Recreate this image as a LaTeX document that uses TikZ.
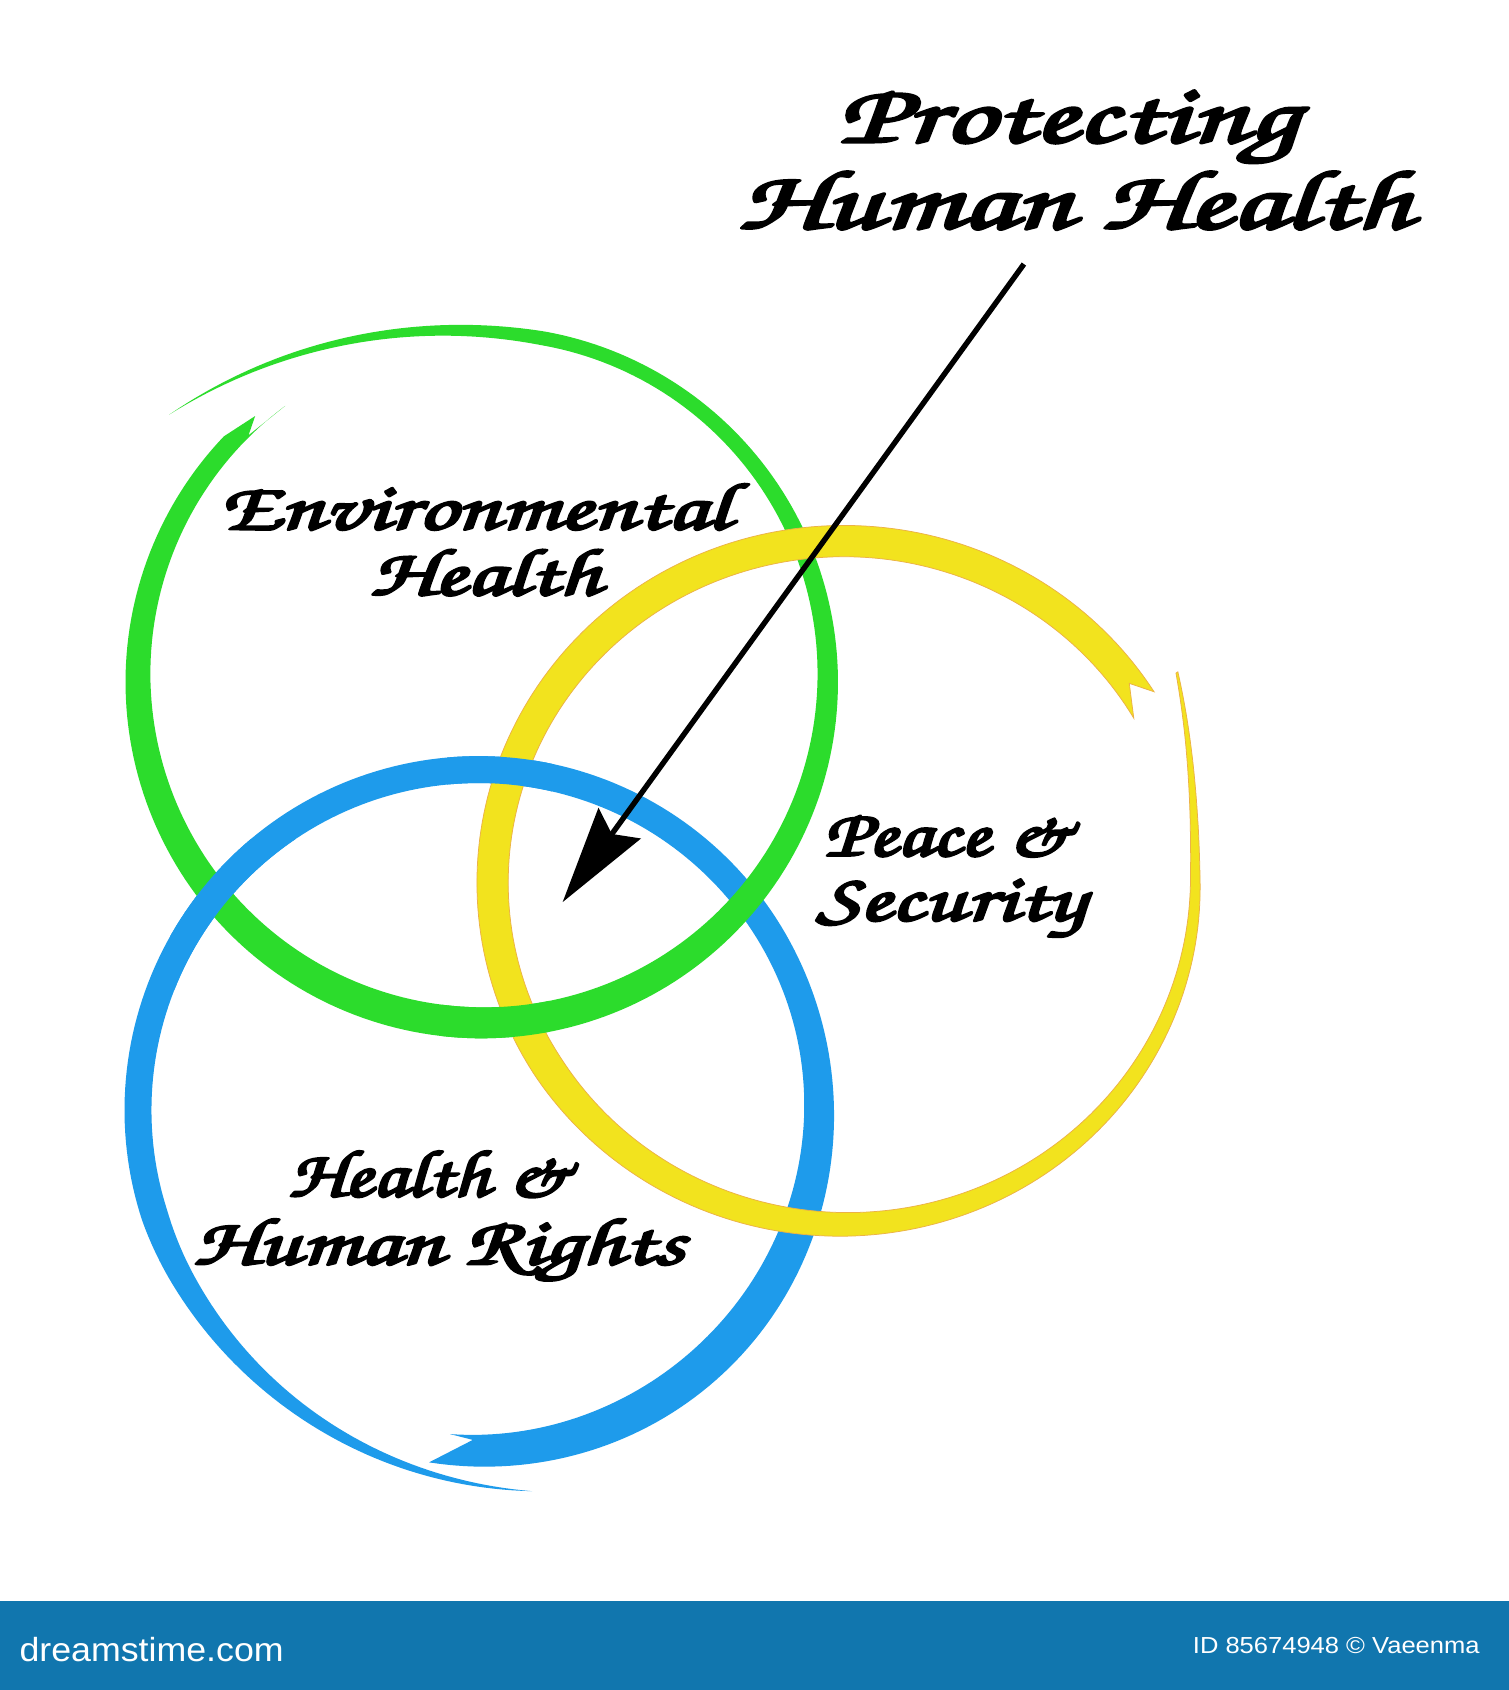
\documentclass[tikz,border=0pt]{standalone}
\usepackage[T1]{fontenc}
\usepackage{fontspec}
\usepackage{graphicx}
\usetikzlibrary{arrows.meta}
\newfontfamily\barfont{Liberation Sans}
\newcommand{\handfont}{\fontencoding{T1}\fontfamily{pzc}\fontseries{mb}\fontshape{it}\selectfont}
\newcommand{\heavy}[2]{\special{pdf:literal direct 2 Tr #1 w 1 j}#2\special{pdf:literal direct 0 Tr}}
\definecolor{ringgreen}{RGB}{44,220,44}
\definecolor{ringblue}{RGB}{30,155,235}
\definecolor{ringyellow}{RGB}{242,227,30}
\definecolor{yedge}{RGB}{236,178,70}
\definecolor{barblue}{RGB}{17,118,174}
\newcommand{\greenpath}{plot[domain=137:500,samples=260,variable=\t] ({448+(rg(\t)+wg(\t)/2)*cos(\t)},{629-(rg(\t)+wg(\t)/2)*sin(\t)})
 -- plot[domain=500:126,samples=260,variable=\t] ({448+(rg(\t)-wg(\t)/2)*cos(\t)},{629-(rg(\t)-wg(\t)/2)*sin(\t)})
 -- ({448+313*cos(134)},{629-313*sin(134)})
 -- ({448+322*cos(131)},{629-322*sin(131)}) -- cycle}
\newcommand{\bluepath}{plot[domain=262:638,samples=260,variable=\t] ({444+(rb(\t)+wb(\t)/2)*cos(\t)},{1030-(rb(\t)+wb(\t)/2)*sin(\t)})
 -- plot[domain=638:265,samples=260,variable=\t] ({444+(rb(\t)-wb(\t)/2)*cos(\t)},{1030-(rb(\t)-wb(\t)/2)*sin(\t)})
 -- ({444+306*cos(269)},{1030-306*sin(269)}) -- cycle}
\newcommand{\yellowpath}{plot[domain=33:-327.7,samples=260,variable=\t] ({783+(ky(\t)*326+wy(\t)/2)*cos(\t)},{819-(ky(\t)*317+wy(\t)/2)*sin(\t)})
 -- ({783+326*cos(35.7)},{819-317*sin(35.7)})
 -- plot[domain=-329.7:33,samples=260,variable=\t] ({783+(ky(\t)*326-wy(\t)/2)*cos(\t)},{819-(ky(\t)*317-wy(\t)/2)*sin(\t)})
 -- cycle}
\tikzset{
 lbl/.style={anchor=base, inner sep=0pt, font=\handfont\fontsize{62}{62}\selectfont},
 ttl/.style={anchor=base, inner sep=0pt, font=\handfont\fontsize{78}{78}\selectfont},
 bartext/.style={anchor=base, inner sep=0pt, text=white},
 ringG/.style={fill=ringgreen},
 ringB/.style={fill=ringblue},
 ringY/.style={fill=ringyellow, draw=yedge, line width=0.7pt},
 pointer/.style={line width=5pt, -{Stealth[length=90pt,width=48pt,inset=12pt]}}
}
\begin{document}
\begin{tikzpicture}[x=1pt,y=-1pt,
 declare function={
  rg(\a)=320+60*max(0,(\a-440)/60)^2;
  wg(\a)=(21+8*cos(\a-255))*min(1,max(0,(500-\a)/60));
  rb(\a)=316+41*max(0,(\a-570)/68)^2;
  wb(\a)=(25+10*max(0,cos(\a-310))^3)*min(1,max(0,(638-\a)/80));
  ky(\a)=1+0.13*max(0,\a/33)^2;
  wy(\a)=2+27*min(1,max(0.001,(33-\a)/180))^0.8;
 }]
\useasboundingbox (0,0) rectangle (1400,1568);
\fill[white] (0,0) rectangle (1400,1568);
% rings
\fill[ringB] \bluepath;
\fill[ringG] \greenpath;
\path[ringY] \yellowpath;
% interlacing fixes
\begin{scope}
 \clip (158,779) rectangle (297,918);
 \fill[ringB] \bluepath;
\end{scope}
\begin{scope}
 \clip (415,688) rectangle (512,790);
 \fill[ringB] \bluepath;
\end{scope}
\begin{scope}
 \clip (410,880) rectangle (510,985);
 \fill[ringG] \greenpath;
\end{scope}
% arrow
\coordinate (arrowstart) at (950,245);
\coordinate (arrowtip) at (522,837);
\draw[pointer] (arrowstart) -- (arrowtip);
% title
\node[ttl] (title1) at (991,132) {\resizebox{427pt}{\height}{\heavy{2.6}{Protecting}}};
\node[ttl] (title2) at (997,212) {\resizebox{625pt}{\height}{\heavy{2.6}{Human Health}}};
% labels
\node[lbl] (env1) at (441,491) {\resizebox{473pt}{\height}{\heavy{2.2}{Environmental}}};
\node[lbl] (env2) at (450,552) {\resizebox{214pt}{\height}{\heavy{2.2}{Health}}};
\node[lbl] (peace1) at (880,794) {\resizebox{231pt}{\height}{\heavy{2.2}{Peace \&}}};
\node[lbl] (peace2) at (882,854) {\resizebox{249pt}{\height}{\heavy{2.2}{Security}}};
\node[lbl] (hhr1) at (399,1110) {\resizebox{263pt}{\height}{\heavy{2.2}{Health \&}}};
\node[lbl] (hhr2) at (407,1173) {\resizebox{456pt}{\height}{\heavy{2.2}{Human Rights}}};
% bottom bar
\fill[barblue] (0,1485) rectangle (1400,1568);
\node[bartext, anchor=base west, font=\barfont\fontsize{31}{31}\selectfont] (brand) at (18,1542) {\resizebox{245pt}{\height}{dreamstime.com}};
\node[bartext, anchor=base east, font=\barfont\fontsize{21.5}{21.5}\selectfont] (imgid) at (1373,1534) {\resizebox{266pt}{\height}{ID 85674948 \textcopyright{} Vaeenma}};
\end{tikzpicture}
\end{document}
